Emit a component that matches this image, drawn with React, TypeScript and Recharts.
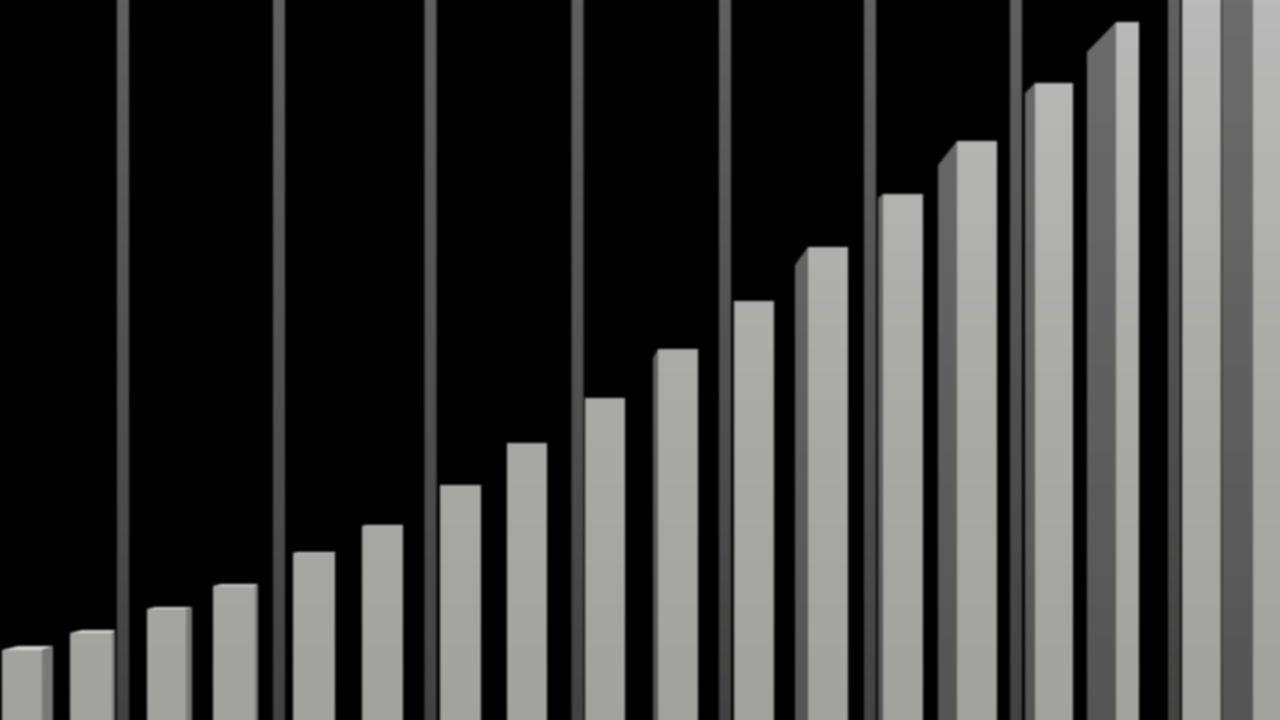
import { BarChart, Bar, XAxis, YAxis, CartesianGrid } from "recharts";

const categories = ["1", "2", "3", "4", "5", "6", "7", "8", "9", "10", "11", "12", "13", "14", "15", "16", "17", "18"];
const barValues = [70, 87, 111, 134, 167, 194, 235, 277, 322, 371, 419, 473, 526, 579, 637, 698, 790, 860];

// where each bar lands along the (perspective) floor axis
const frontLeft = [2, 70, 147, 213, 293, 362, 440, 507, 585, 658, 734, 808, 883, 957, 1035, 1116, 1182, 1253];
const frontRight = [42, 112, 186, 255, 335, 403, 481, 547, 625, 698, 774, 848, 923, 997, 1073, 1139, 1221, 1300];
const sideEdge = [53, 115, 192, 258, 335, 403, 481, 547, 625, 653, 734, 795, 878, 938, 1025, 1087, 1182, 1222];
const sideRise = [4, 3, 2, 2, 1, 1, 0, 0, 0, -9, 0, -18, -4, -24, -10, -30, 0, -40];
const gridTicks = [123, 279, 430.5, 577.5, 725, 870, 1016, 1174];

const data = categories.map((name, i) => ({
  name,
  value: barValues[i],
  left: frontLeft[i],
  right: frontRight[i],
  edge: sideEdge[i],
  rise: sideRise[i],
}));

const WIDTH = 1280;
const HEIGHT = 720;
// chart runs a little past the window so the soft edges don't fade at the border
const BLEED = 4;

function Bar3D(props: any) {
  const { x, y, width, height, payload } = props;
  const left = x + width / 2;
  const right = left + (payload.right - payload.left);
  const edge = left + (payload.edge - payload.left);
  const rise = payload.rise;
  const bottom = y + height + BLEED;
  const onRight = edge > right;
  const backY = y - rise;
  return (
    <g>
      {onRight && (
        <polygon points={`${right},${y} ${edge},${backY} ${edge},${bottom} ${right},${bottom}`} fill="#787876" />
      )}
      {edge < left && (
        <polygon points={`${edge},${backY} ${left},${y} ${left},${bottom} ${edge},${bottom}`} fill="url(#sideFill)" />
      )}
      {rise > 0 && (
        <polygon
          points={`${left},${y} ${left + rise * 4},${backY} ${edge},${backY} ${right},${y}`}
          fill="#d4d4d2"
        />
      )}
      <rect x={left} y={y} width={right - left} height={bottom - y} fill="url(#frontFill)" />
    </g>
  );
}

export default function App() {
  return (
    <div style={{ position: "fixed", left: 0, top: 0, width: WIDTH, height: HEIGHT, background: "#000", overflow: "hidden" }}>
      <div style={{ position: "absolute", left: -BLEED, top: -BLEED, filter: "blur(0.8px)" }}>
        <BarChart
          width={WIDTH + BLEED * 2}
          height={HEIGHT + BLEED * 2}
          data={data}
          margin={{ top: 0, right: 0, bottom: 0, left: 0 }}
        >
          <defs>
            <linearGradient id="frontFill" gradientUnits="userSpaceOnUse" x1="0" y1="0" x2="0" y2={HEIGHT}>
              <stop offset="0" stopColor="#bababa" />
              <stop offset="0.55" stopColor="#aaaaa7" />
              <stop offset="1" stopColor="#a2a29e" />
            </linearGradient>
            <linearGradient id="sideFill" gradientUnits="userSpaceOnUse" x1="0" y1="0" x2="0" y2={HEIGHT}>
              <stop offset="0" stopColor="#6c6c6c" />
              <stop offset="1" stopColor="#545454" />
            </linearGradient>
            <linearGradient id="gridFill" gradientUnits="userSpaceOnUse" x1="0" y1="0" x2="0" y2={HEIGHT}>
              <stop offset="0" stopColor="#606060" />
              <stop offset="1" stopColor="#424242" />
            </linearGradient>
          </defs>
          <CartesianGrid horizontal={false} stroke="url(#gridFill)" strokeWidth={12} syncWithTicks />
          <XAxis dataKey="left" type="number" domain={[-BLEED, WIDTH + BLEED]} ticks={gridTicks} hide />
          <YAxis type="number" domain={[-BLEED, HEIGHT + BLEED]} allowDataOverflow hide />
          <Bar dataKey="value" barSize={40} shape={Bar3D} isAnimationActive={false} />
        </BarChart>
      </div>
    </div>
  );
}
